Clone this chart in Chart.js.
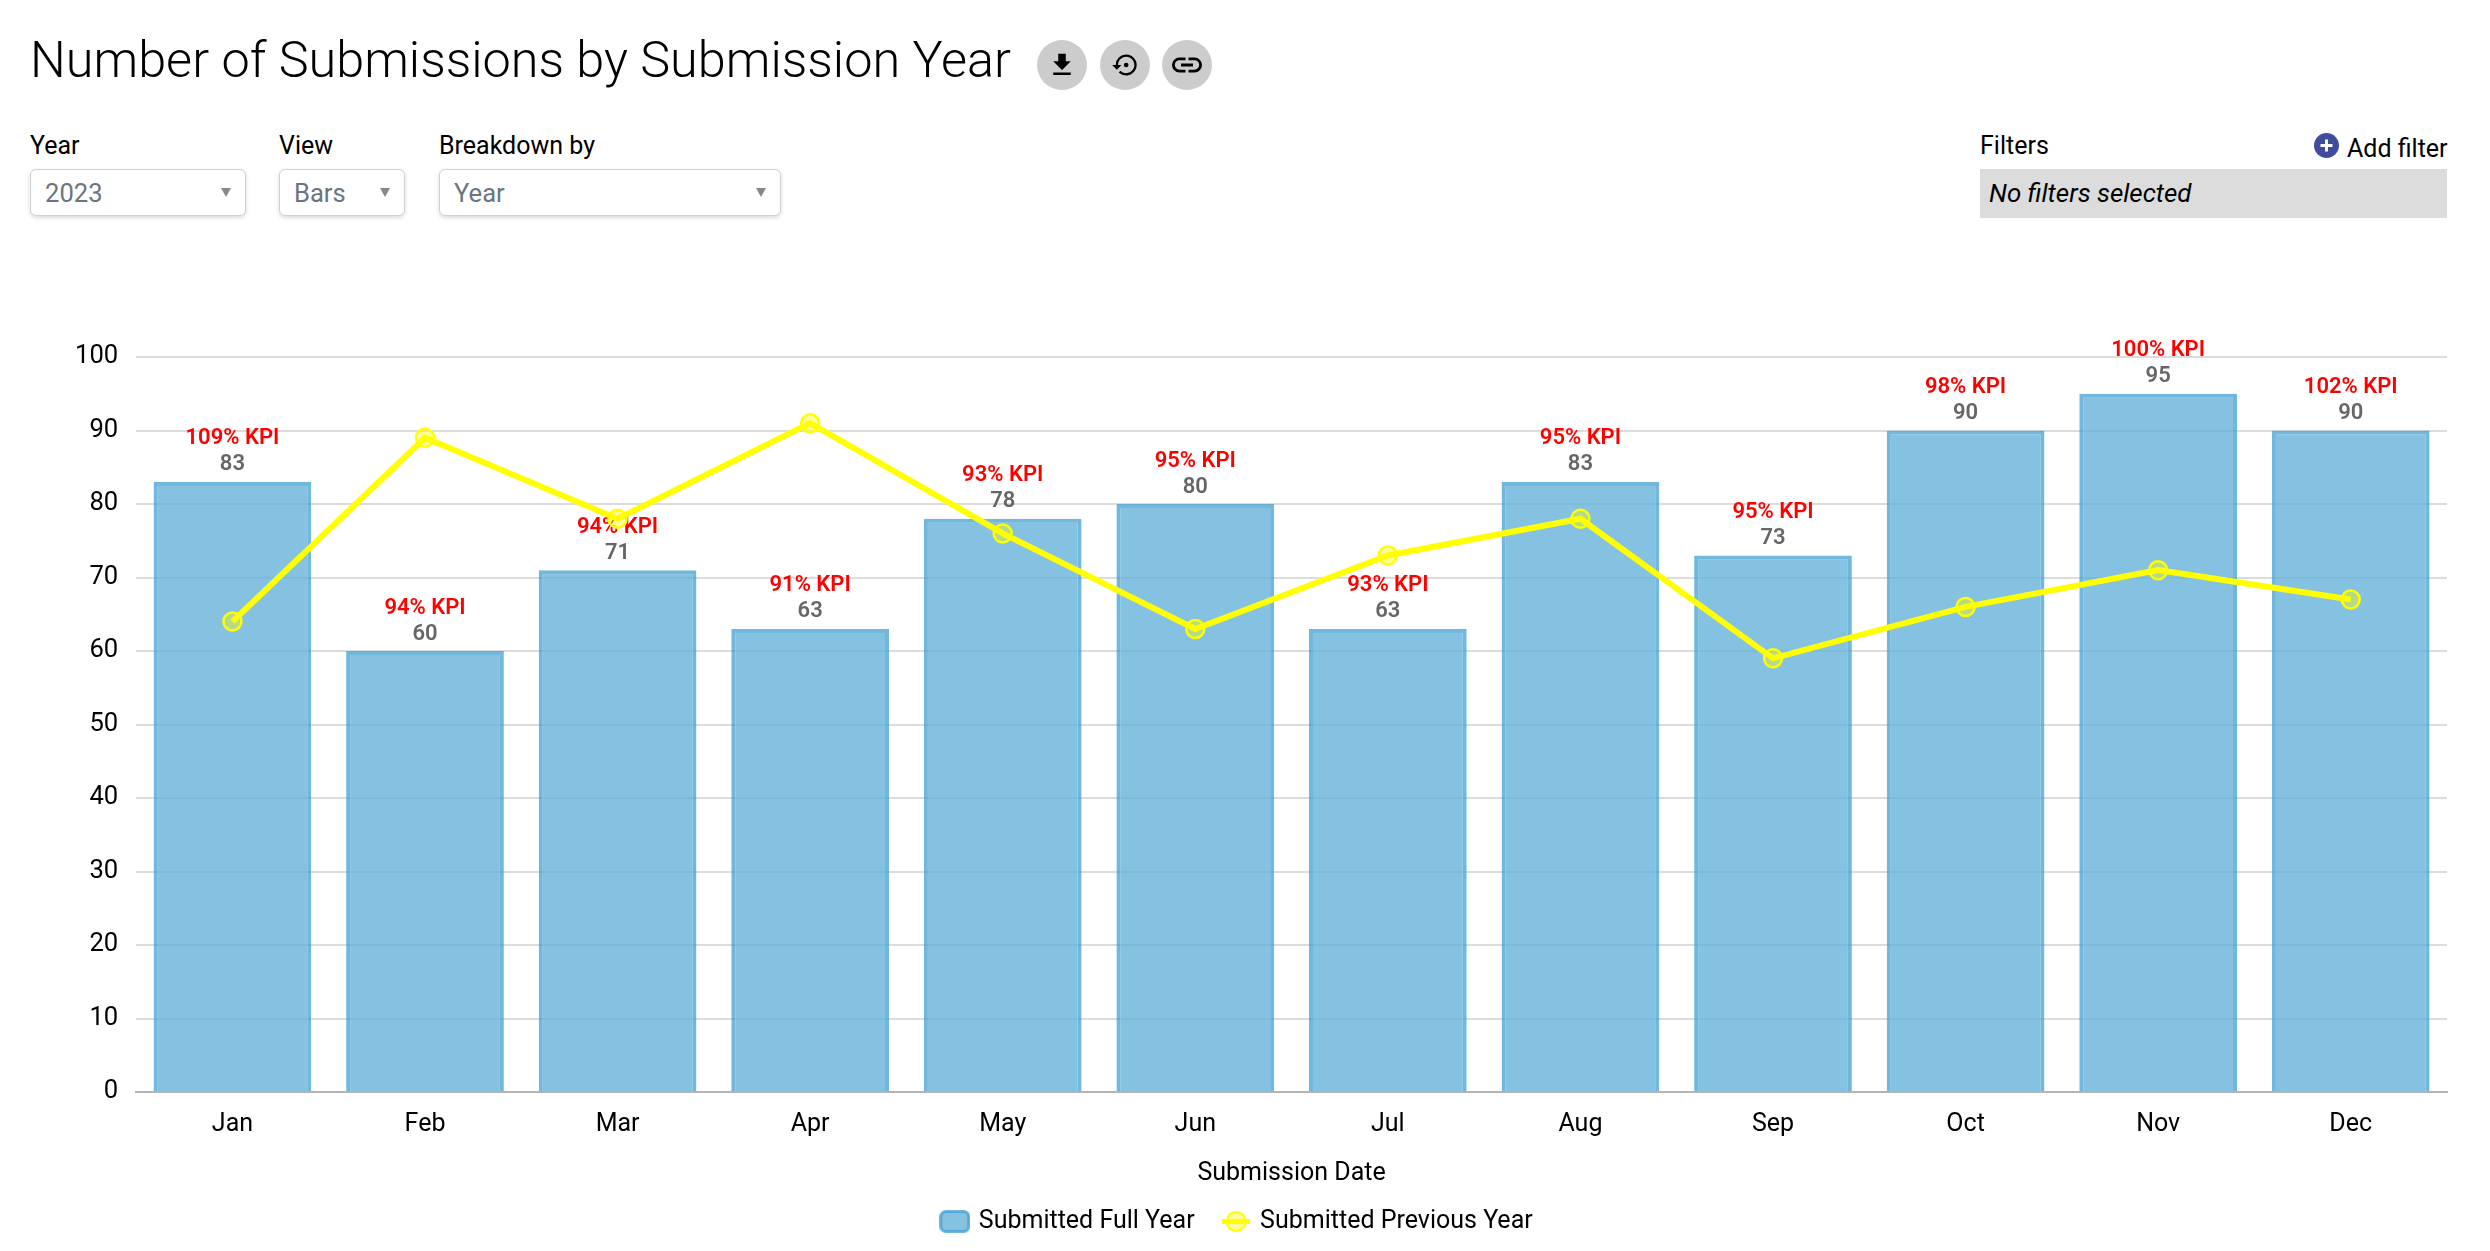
<!DOCTYPE html>
<html>
<head>
<meta charset="utf-8">
<title>Number of Submissions by Submission Year</title>
<script src="https://cdn.jsdelivr.net/npm/chart.js@4"></script>
<style>
  html, body { margin: 0; padding: 0; background: #fff; }
  body { width: 2490px; height: 1251px; position: relative; overflow: hidden; font-family: Roboto, sans-serif; color: #000; }
  .abs { position: absolute; white-space: nowrap; }
  .title { left: 30px; top: 29px; font-size: 50.4px; font-weight: 300; line-height: 62px; }
  .icon { width: 50px; height: 50px; border-radius: 50%; background: #ccc; top: 40px; display: flex; align-items: center; justify-content: center; }
  .label { font-size: 25px; line-height: 30px; top: 131px; }
  .select { top: 169px; height: 47px; box-sizing: border-box; background: #fff; border: 1px solid #d0d0d6; border-radius: 6px; box-shadow: 0 2px 4px rgba(0,0,0,.14); color: #6c757d; font-size: 25.6px; line-height: 46px; padding-left: 14px; }
  .select::after { content: ""; position: absolute; right: 14px; top: 18px; border-left: 5px solid transparent; border-right: 5px solid transparent; border-top: 9px solid #888; }
  .none { left: 1980px; top: 169px; width: 467px; height: 49px; background: #dcdcdc; font-style: italic; font-size: 25.9px; line-height: 49px; padding-left: 9px; box-sizing: border-box; }
  .plus { left: 2314px; top: 133px; width: 25px; height: 25px; border-radius: 50%; background: #3f4d9c; }
  #chartBox { position: absolute; left: 0; top: 300px; width: 2490px; height: 954px; }
</style>
</head>
<body>
<div class="abs title">Number of Submissions by Submission Year</div>
<div class="abs icon" style="left:1037px"><svg width="30" height="30" viewBox="0 0 24 24"><path d="M19 9h-4V3H9v6H5l7 7 7-7zM5 18v2h14v-2H5z"/></svg></div>
<div class="abs icon" style="left:1100px"><svg width="28" height="28" viewBox="0 0 24 24"><path d="M13 3a9 9 0 0 0-9 9H1l4 4 4-4H6a7 7 0 1 1 2.05 4.95L6.64 18.36A9 9 0 1 0 13 3zm0 7a2 2 0 1 0 0 4 2 2 0 0 0 0-4z"/></svg></div>
<div class="abs icon" style="left:1162px"><svg width="36" height="36" viewBox="0 0 24 24"><path d="M3.9 12c0-1.71 1.39-3.1 3.1-3.1h4V7H7a5 5 0 0 0 0 10h4v-1.9H7c-1.71 0-3.1-1.39-3.1-3.1zM8 13h8v-2H8v2zm9-6h-4v1.9h4c1.71 0 3.1 1.39 3.1 3.1s-1.39 3.1-3.1 3.1h-4V17h4a5 5 0 0 0 0-10z"/></svg></div>

<div class="abs label" style="left:30px">Year</div>
<div class="abs label" style="left:279px">View</div>
<div class="abs label" style="left:439px">Breakdown by</div>
<div class="abs select" style="left:30px;width:216px">2023</div>
<div class="abs select" style="left:279px;width:126px">Bars</div>
<div class="abs select" style="left:439px;width:342px">Year</div>

<div class="abs label" style="left:1980px">Filters</div>
<div class="abs plus"><svg width="25" height="25" viewBox="0 0 25 25"><path d="M12.5 6.5v12M6.5 12.5h12" stroke="#fff" stroke-width="3"/></svg></div>
<div class="abs label" style="left:2347px;top:134px">Add filter</div>
<div class="abs none">No filters selected</div>

<div id="chartBox"><canvas id="chart"></canvas></div>

<script>
const months = ['Jan', 'Feb', 'Mar', 'Apr', 'May', 'Jun', 'Jul', 'Aug', 'Sep', 'Oct', 'Nov', 'Dec'];
const submittedFull = [83, 60, 71, 63, 78, 80, 63, 83, 73, 90, 95, 90];
const submittedPrevious = [64, 89, 78, 91, 76, 63, 73, 78, 59, 66, 71, 67];
const kpiPercent = [109, 94, 94, 91, 93, 95, 93, 95, 95, 98, 100, 102];

const barFill = 'rgba(102,179,217,0.8)';
const barEdge = 'rgba(52,152,208,0.7)';
const lineYellow = '#ffff00';
const pointFill = 'rgba(255,255,0,0.4)';

// legend swatches, the default ones look nothing like the original
function barSwatch() {
  const c = document.createElement('canvas');
  c.width = 31; c.height = 23;
  const g = c.getContext('2d');
  g.beginPath();
  g.roundRect(1.5, 1.5, 28, 20, 5);
  g.fillStyle = barFill;
  g.fill();
  g.lineWidth = 3;
  g.strokeStyle = barEdge;
  g.stroke();
  return c;
}

function lineSwatch() {
  const c = document.createElement('canvas');
  c.width = 28; c.height = 23;
  const g = c.getContext('2d');
  g.beginPath();
  g.arc(14, 11.5, 9.5, 0, Math.PI * 2);
  g.fillStyle = pointFill;
  g.fill();
  g.lineWidth = 2;
  g.strokeStyle = lineYellow;
  g.stroke();
  g.fillStyle = lineYellow;
  g.fillRect(0, 9, 28, 5);
  return c;
}

const barLabels = {
  id: 'barLabels',
  afterLayout(chart) {
    // the original legend sits a bit left of centre and close to the axis title
    chart.legend.left -= 14;
    chart.legend.right -= 14;
    chart.legend.top -= 10;
  },
  afterDatasetDraw(chart, args) {
    if (args.index !== 0) return;
    const ctx = chart.ctx;
    ctx.save();
    ctx.textAlign = 'center';
    ctx.textBaseline = 'middle';
    ctx.font = '600 22px Roboto';
    args.meta.data.forEach((bar, i) => {
      ctx.fillStyle = '#666666';
      ctx.fillText(submittedFull[i], bar.x, bar.y - 17);
      ctx.fillStyle = '#ff0000';
      ctx.fillText(kpiPercent[i] + '% KPI', bar.x, bar.y - 43);
    });
    ctx.restore();
  }
};

new Chart(document.getElementById('chart'), {
  type: 'bar',
  plugins: [barLabels],
  data: {
    labels: months,
    datasets: [
      {
        label: 'Submitted Full Year',
        data: submittedFull,
        backgroundColor: barFill,
        borderColor: barEdge,
        borderWidth: 4,
        barPercentage: 0.9,
        categoryPercentage: 0.91,
        order: 2
      },
      {
        type: 'line',
        label: 'Submitted Previous Year',
        data: submittedPrevious,
        borderColor: lineYellow,
        backgroundColor: pointFill,
        borderWidth: 6,
        tension: 0,
        fill: false,
        pointRadius: 9,
        pointBorderWidth: 2.5,
        pointBorderColor: lineYellow,
        pointBackgroundColor: pointFill,
        order: 1
      }
    ]
  },
  options: {
    responsive: true,
    maintainAspectRatio: false,
    animation: false,
    layout: { padding: { left: 57, right: 43, top: 57, bottom: 0 } },
    scales: {
      x: {
        grid: { display: false },
        border: { color: '#b4b4b4', width: 2 },
        ticks: { color: '#000', font: { family: 'Roboto', size: 25 }, padding: 10, maxRotation: 0 },
        title: { display: true, text: 'Submission Date', color: '#000', font: { family: 'Roboto', size: 25 }, padding: { top: 9, bottom: 0 } }
      },
      y: {
        min: 0,
        max: 100,
        border: { display: false },
        grid: { color: '#dcdcdc', lineWidth: 2, drawTicks: false },
        ticks: { stepSize: 10, color: '#000', font: { family: 'Roboto', size: 25.6 }, padding: 18 }
      }
    },
    plugins: {
      tooltip: { enabled: false },
      legend: {
        position: 'bottom',
        labels: {
          color: '#000',
          font: { family: 'Roboto', size: 25 },
          usePointStyle: true,
          pointStyleWidth: 23,
          padding: 30,
          generateLabels() {
            return [
              { text: 'Submitted Full Year', pointStyle: barSwatch(), fontColor: '#000', datasetIndex: 0, lineWidth: 0 },
              { text: 'Submitted Previous Year', pointStyle: lineSwatch(), fontColor: '#000', datasetIndex: 1, lineWidth: 0 }
            ];
          }
        }
      }
    }
  }
});
</script>
</body>
</html>
